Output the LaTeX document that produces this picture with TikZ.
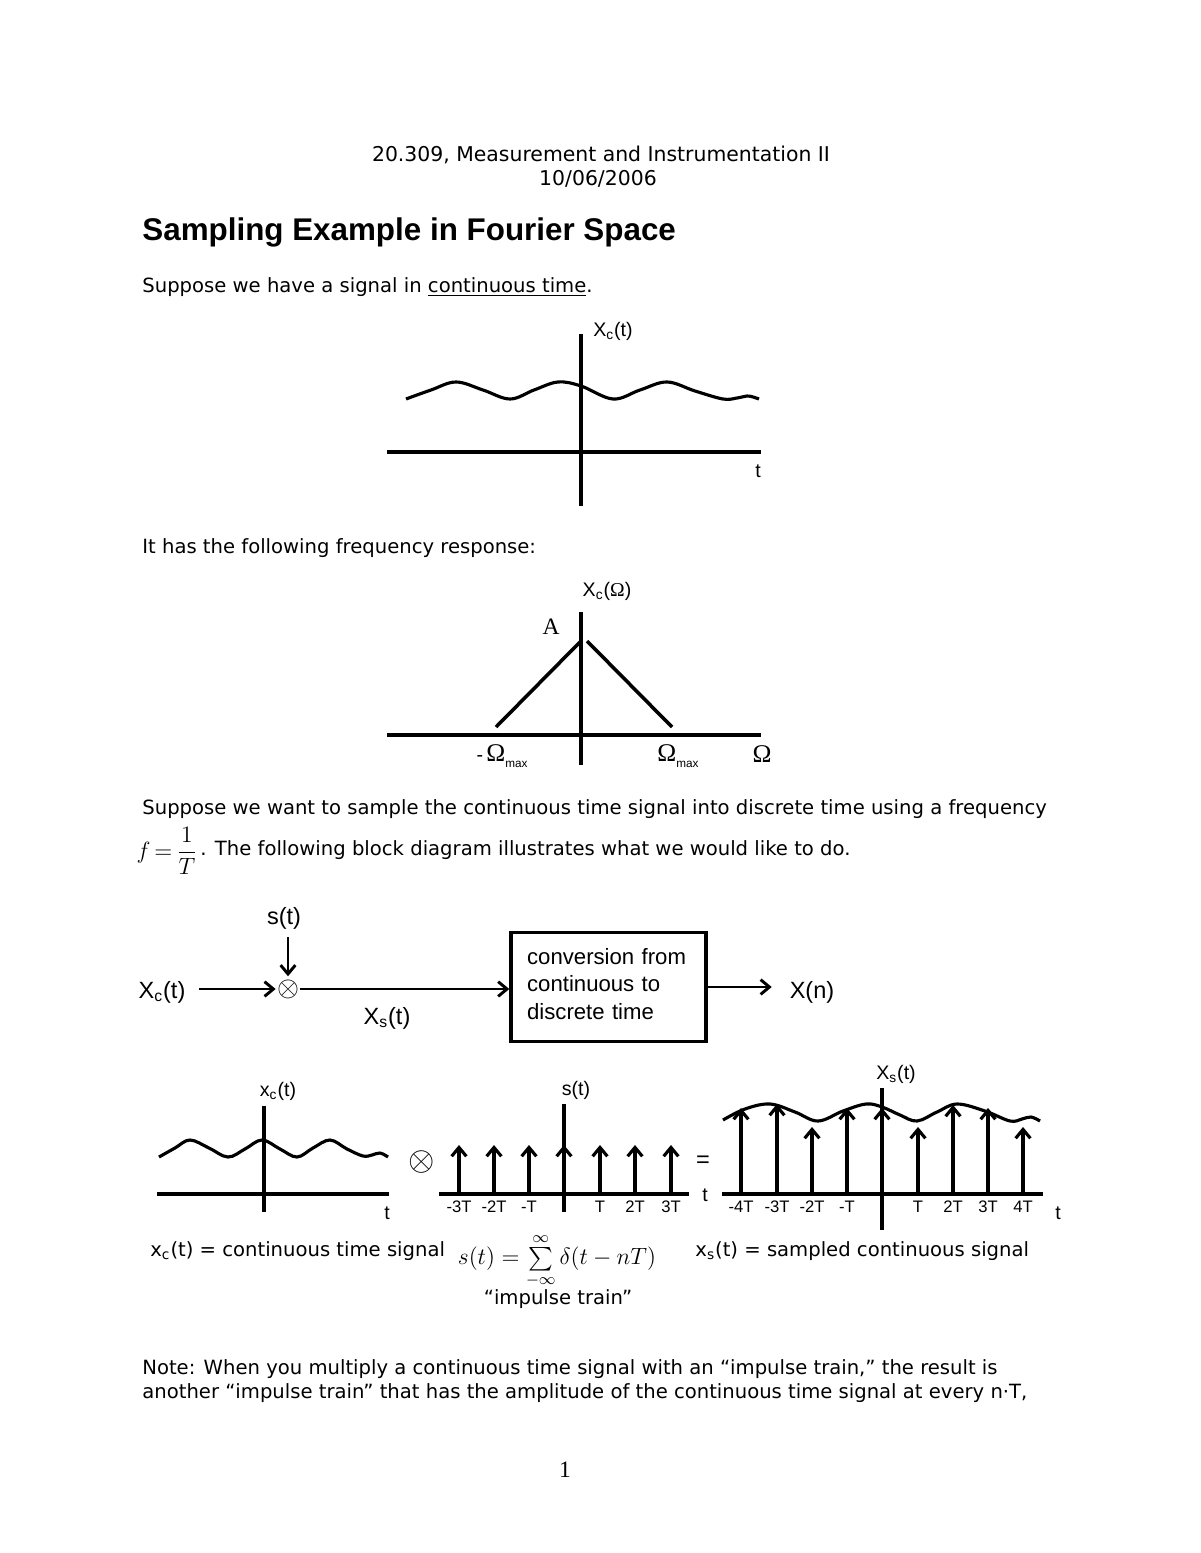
\documentclass[tikz,border=0pt]{standalone}
\usepackage[no-math]{fontspec}
\usepackage{amsmath}
\setmainfont{DejaVu Sans}
\newfontfamily\arialfont{Liberation Sans}
\newfontfamily\timesfont{Liberation Serif}
\usetikzlibrary{arrows.meta}

\begin{document}
\begin{tikzpicture}[
    x=0.51pt,y=-0.51pt,
    axis/.style={line width=1.8pt},
    wave/.style={line width=1.6pt,line join=round},
    impulse/.style={line width=1.6pt,-{Straight Barb[length=4.5pt,width=7.5pt]}},
    flow/.style={line width=1.5pt,-{Straight Barb[length=4.5pt,width=7.5pt]}},
    body/.style={inner sep=0pt,font=\fontsize{10}{12}\selectfont},
    lbl/.style={inner sep=0pt,font=\arialfont\fontsize{10}{12}\selectfont},
    blbl/.style={inner sep=0pt,font=\arialfont\fontsize{12}{14}\selectfont},
    tick/.style={inner sep=0pt,font=\arialfont\fontsize{8.5}{10}\selectfont}
  ]
    \fill[white] (0,0) rectangle (1200,1553);
    \useasboundingbox (0,0) rectangle (1200,1553);

    % header and title
    \node[body,font=\fontsize{10.4}{12}\selectfont] (head) at (601,155) {20.309, Measurement and Instrumentation II};
    \node[body,font=\fontsize{10.4}{12}\selectfont] (date) at (598,179) {10/06/2006};
    \node[inner sep=0pt,anchor=west,font=\arialfont\bfseries\fontsize{16}{18}\selectfont] (title) at (142,232) {Sampling Example in Fourier Space};
    \node[body,anchor=west] (intro) at (142,287) {Suppose we have a signal in \underline{continuous time}.};

    % continuous signal
    \draw[axis] (581,334) -- (581,506);
    \draw[axis] (387,452) -- (761,452);
    \draw[wave] plot[smooth,tension=0.6] coordinates {(406,399) (431,390) (456,382) (483,390) (510,399) (534,390)
      (558,382) (581,386) (613,399) (640,390) (667,382) (695,391) (723,399) (737,398) (747,396) (753,397) (759,399)};
    \node[lbl] (xcta) at (613,331) {X\textsubscript{c}(t)};
    \node[lbl] (ta) at (758,471) {t};

    \node[body,anchor=west] (resp) at (142,548) {It has the following frequency response:};

    % spectrum
    \draw[axis] (581,612) -- (581,765);
    \draw[axis] (387,735) -- (761,735);
    \draw[axis] (496,727) -- (580,642);
    \draw[axis] (587,641) -- (672,727);
    \node[lbl] (xcw) at (607,591) {X\textsubscript{c}({\timesfont Ω})};
    \node[inner sep=0pt,font=\timesfont\fontsize{12}{14}\selectfont] (amp) at (551,627) {A};
    \node[inner sep=0pt,font=\arialfont\fontsize{10}{12}\selectfont] (wneg) at (502,756)
      {-\,{\timesfont\fontsize{13}{14}\selectfont Ω}\raisebox{-3pt}{\fontsize{6}{7}\selectfont max}};
    \node[inner sep=0pt,font=\arialfont\fontsize{10}{12}\selectfont] (wpos) at (678,756)
      {{\timesfont\fontsize{13}{14}\selectfont Ω}\raisebox{-3pt}{\fontsize{6}{7}\selectfont max}};
    \node[inner sep=0pt,font=\timesfont\fontsize{13}{14}\selectfont] (wax) at (762,754) {Ω};

    \node[body,anchor=west] (samp) at (142,809) {Suppose we want to sample the continuous time signal into discrete time using a frequency};
    \node[inner sep=0pt,anchor=east,font=\fontsize{11.5}{14}\selectfont] (freq) at (198,851) {$f\,{=}\,\dfrac{1}{T}$};
    \node[body,anchor=west] (follow) at (200,850) {. The following block diagram illustrates what we would like to do.};

    % block diagram
    \node[blbl] (xc) at (162,992) {X\textsubscript{c}(t)};
    \node[inner sep=0.5pt,font=\fontsize{14}{16}\selectfont] (mult) at (288,989) {$\otimes$};
    \node[blbl] (st) at (284,918) {s(t)};
    \node[draw,line width=1.7pt,minimum width=99.5pt,minimum height=54pt,inner sep=8pt,
      text width=83pt,align=left,font=\arialfont\fontsize{11.3}{14}\selectfont] (conv) at (608.5,987)
      {conversion from\\continuous to\\discrete time\vspace{3pt}};
    \node[blbl] (xn) at (812,992) {X(n)};
    \node[blbl] (xs) at (387,1018) {X\textsubscript{s}(t)};
    \draw[flow] ([xshift=7pt]xc.east |- mult.west) -- (mult.west);
    \draw[flow,shorten <=4pt,shorten >=1pt] (st.south -| mult.north) -- (mult.north);
    \draw[flow] (mult.east) -- (mult.east -| conv.west);
    \draw[flow,shorten >=9pt] (conv.east) -- (conv.east -| xn.west);

    % x_c(t)
    \draw[axis] (264,1106) -- (264,1212);
    \draw[axis] (157,1194) -- (389,1194);
    \draw[wave] plot[smooth,tension=0.6] coordinates {(159,1157) (175,1148) (190,1140) (209,1148) (228,1157) (245,1149)
      (262,1140) (280,1149) (297,1157) (313,1148) (330,1140) (347,1149) (363,1156) (372,1155) (380,1153) (388,1157)};
    \node[lbl] (xctb) at (278,1091) {x\textsubscript{c}(t)};
    \node[lbl] (tb) at (387,1213) {t};
    \node[inner sep=0pt,font=\fontsize{17}{18}\selectfont] (times) at (422,1162) {$\otimes$};

    % impulse train
    \draw[axis] (439,1194) -- (689,1194);
    \foreach \x/\lab [count=\i] in {459/-3T,494/-2T,529/-T,564/,600/T,635/2T,671/3T}{
      \draw[impulse] (\x,1194) -- (\x,1145);
      \node[tick] (sk\i) at (\x,1207) {\lab};
    }
    \draw[axis] (564,1104) -- (564,1212);
    \node[lbl] (stb) at (576,1090) {s(t)};
    \node[inner sep=0pt,font=\arialfont\fontsize{12}{14}\selectfont] (eq) at (703,1162) {=};
    \node[lbl] (tc) at (705,1195) {t};

    % sampled signal
    \draw[axis] (722,1194) -- (1043,1194);
    \draw[axis] (882,1088) -- (882,1230);
    \draw[wave] plot[smooth,tension=0.6] coordinates {(723,1120) (745,1109) (770,1104) (795,1112) (818,1121) (843,1111)
      (866,1104) (882,1107) (900,1115) (917,1121) (937,1112) (957,1104) (985,1111) (1010,1121) (1022,1119) (1031,1117) (1040,1121)};
    \foreach \x/\tip/\lab [count=\i] in {741/1108/-4T,777/1104/-3T,812/1127/-2T,847/1108/-T,882/1108/,
        918/1127/T,953/1105/2T,988/1108/3T,1023/1127/4T}{
      \draw[impulse] (\x,1194) -- (\x,\tip);
      \node[tick] (xk\i) at (\x,1207) {\lab};
    }
    \node[lbl] (xstc) at (896,1074) {X\textsubscript{s}(t)};
    \node[lbl] (td) at (1058,1213) {t};

    % captions
    \node[body,anchor=west] (capa) at (150,1251) {x\textsubscript{c}(t) = continuous time signal};
    \node[inner sep=0pt,font=\fontsize{12}{14}\selectfont] (sdef) at (557,1261)
      {$s(t)=\mathop{\textstyle\sum}\limits_{-\infty}^{\infty}\delta(t-nT)$};
    \node[body] (train) at (558,1299) {“impulse train”};
    \node[body,anchor=west] (capc) at (695,1251) {x\textsubscript{s}(t) = sampled continuous signal};

    \node[body,anchor=west] (note1) at (142,1369) {Note: When you multiply a continuous time signal with an “impulse train,” the result is};
    \node[body,anchor=west] (note2) at (142,1393) {another “impulse train” that has the amplitude of the continuous time signal at every n·T,};
    \node[inner sep=0pt,font=\timesfont\fontsize{12}{14}\selectfont] (page) at (565,1470) {1};
  \end{tikzpicture}
\end{document}
